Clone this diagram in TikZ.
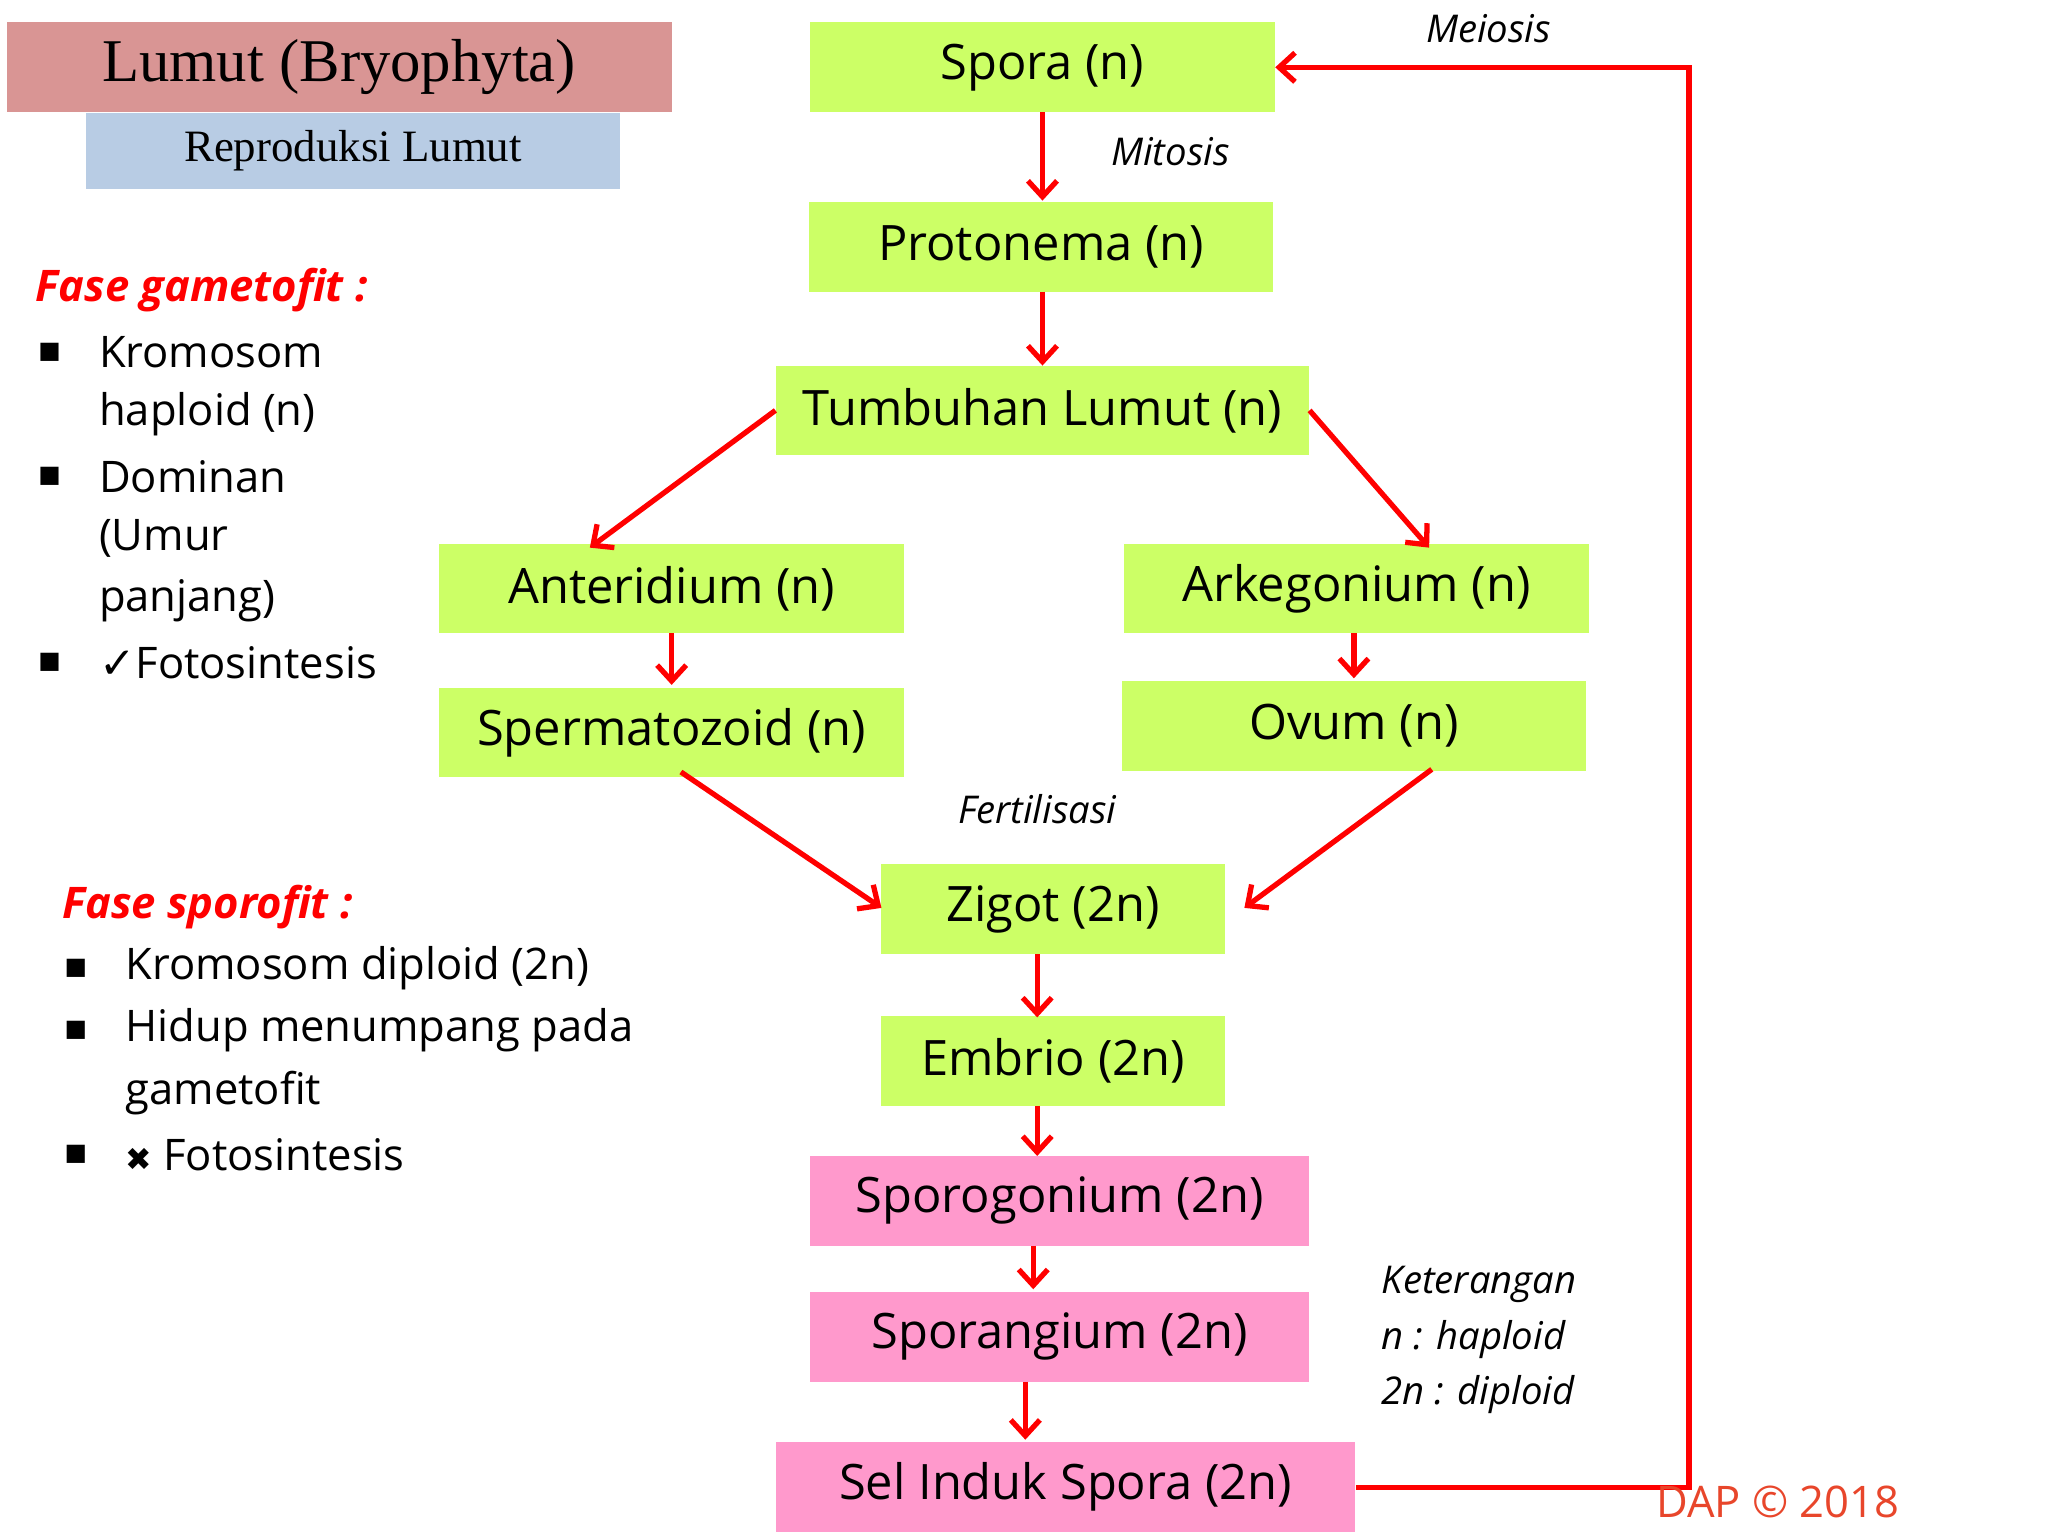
\documentclass[tikz,border=0pt]{standalone}
\usepackage{fontspec}
\setsansfont{Open Sans}
\setmainfont{Liberation Serif}
\newfontfamily\symf{DejaVu Sans}
\usetikzlibrary{arrows.meta}
\definecolor{gr}{HTML}{CCFF66}
\definecolor{pk}{HTML}{FF99CC}
\definecolor{tt}{HTML}{D99594}
\definecolor{st}{HTML}{B8CCE4}
\definecolor{rd}{HTML}{FF0000}
\definecolor{dap}{HTML}{E8462B}
\begin{document}
\begin{tikzpicture}[x=0.5pt,y=-0.5pt,
 box/.style={inner sep=0,minimum height=34pt,font=\sffamily\fontsize{18.5}{22}\selectfont},
 g/.style={box,fill=gr},p/.style={box,fill=pk},
 arr/.style={draw=rd,line width=2pt,-{Straight Barb[length=6pt,width=11pt,line width=2pt]}},
 lab/.style={font=\sffamily\itshape\fontsize{14.5}{18}\selectfont},
 lt/.style={anchor=west,font=\sffamily\fontsize{16.5}{20}\selectfont},
 bul/.style={anchor=west,font=\symf\fontsize{9}{10}\selectfont}]
\useasboundingbox (0,0) rectangle (1552,1164);
\node[fill=tt,minimum width=252pt,minimum height=34pt,font=\fontsize{23}{27}\selectfont] (t) at (257,51) {Lumut (Bryophyta)};
\node[fill=st,minimum width=202.5pt,minimum height=28.5pt,font=\fontsize{17}{20}\selectfont] (s) at (267.5,114.5) {Reproduksi Lumut};
\node[g,minimum width=176pt] (spora) at (790,51) {Spora (n)};
\node[g,minimum width=176pt] (proto) at (789,187) {Protonema (n)};
\node[g,minimum width=202pt] (tumb) at (790,311) {Tumbuhan Lumut (n)};
\node[g,minimum width=176pt] (ant) at (509,446) {Anteridium (n)};
\node[g,minimum width=176pt] (ark) at (1028,446) {Arkegonium (n)};
\node[g,minimum width=176pt] (sperm) at (509,555) {Spermatozoid (n)};
\node[g,minimum width=176pt] (ovum) at (1026,550) {Ovum (n)};
\node[g,minimum width=130.5pt] (zig) at (798,689) {Zigot (2n)};
\node[g,minimum width=130.5pt] (emb) at (798,804) {Embrio (2n)};
\node[p,minimum width=189pt] (spg) at (803,910) {Sporogonium (2n)};
\node[p,minimum width=189pt] (spa) at (803,1013) {Sporangium (2n)};
\node[p,minimum width=219.5pt] (sel) at (807.5,1127) {Sel Induk Spora (2n)};
\coordinate (c1) at (1280,1127); \coordinate (c2) at (1280,51);
\draw[arr] (790,85) -- (790,152);
\draw[arr] (790,221) -- (790,277);
\draw[arr] (tumb.west) -- (447,415);
\draw[arr] (tumb.east) -- (1083,415);
\draw[arr] (509,480) -- (509,519);
\draw[arr] (1026,480) -- (1026,514);
\draw[arr] (516,585) -- (668,688);
\draw[arr] (1085,583) -- (943,688);
\draw[arr] (786,723) -- (786,771);
\draw[arr] (786,838) -- (786,876);
\draw[arr] (783,944) -- (783,977);
\draw[arr] (777,1047) -- (777,1091);
\draw[arr] (sel.east) -- (c1) -- (c2) -- (spora.east);
\node[lab] (m1) at (1128,22) {Meiosis};
\node[lab] (m2) at (887,115) {Mitosis};
\node[lab] (m3) at (786,613) {Fertilisasi};
\node[lab,anchor=west] (k1) at (1040,973) {Keterangan};
\node[lab,anchor=west] (k2) at (1040,1015) {n : haploid};
\node[lab,anchor=west] (k3) at (1040,1057) {2n : diploid};
\node[anchor=west,text=dap,font=\sffamily\fontsize{16.5}{20}\selectfont] (dap) at (1248,1138) {DAP © 2018};
\node[lt,text=rd,font=\sffamily\bfseries\itshape\fontsize{16.5}{20}\selectfont] (f1) at (20,220) {Fase gametofit :};
\foreach \y/\t in {267/Kromosom,314/haploid (n),361/Dominan,408/(Umur,455/panjang)} {\node[lt] at (68,\y) {\t};}
\node[lt] at (68,502) {{\symf ✓}Fotosintesis};
\foreach \y in {267,361,502} {\node[bul] at (22,\y) {■};}
\node[lt,text=rd,font=\sffamily\bfseries\itshape\fontsize{16.5}{20}\selectfont] (f2) at (40,687) {Fase sporofit :};
\foreach \y/\t in {734/Kromosom diploid (2n),781/Hidup menumpang pada,828/gametofit} {\node[lt] at (88,\y) {\t};}
\node[lt] at (88,875) {{\symf\fontsize{12}{14}\selectfont ✖} Fotosintesis};
\foreach \y in {734,781,875} {\node[bul] at (42,\y) {■};}
\end{tikzpicture}
\end{document}
